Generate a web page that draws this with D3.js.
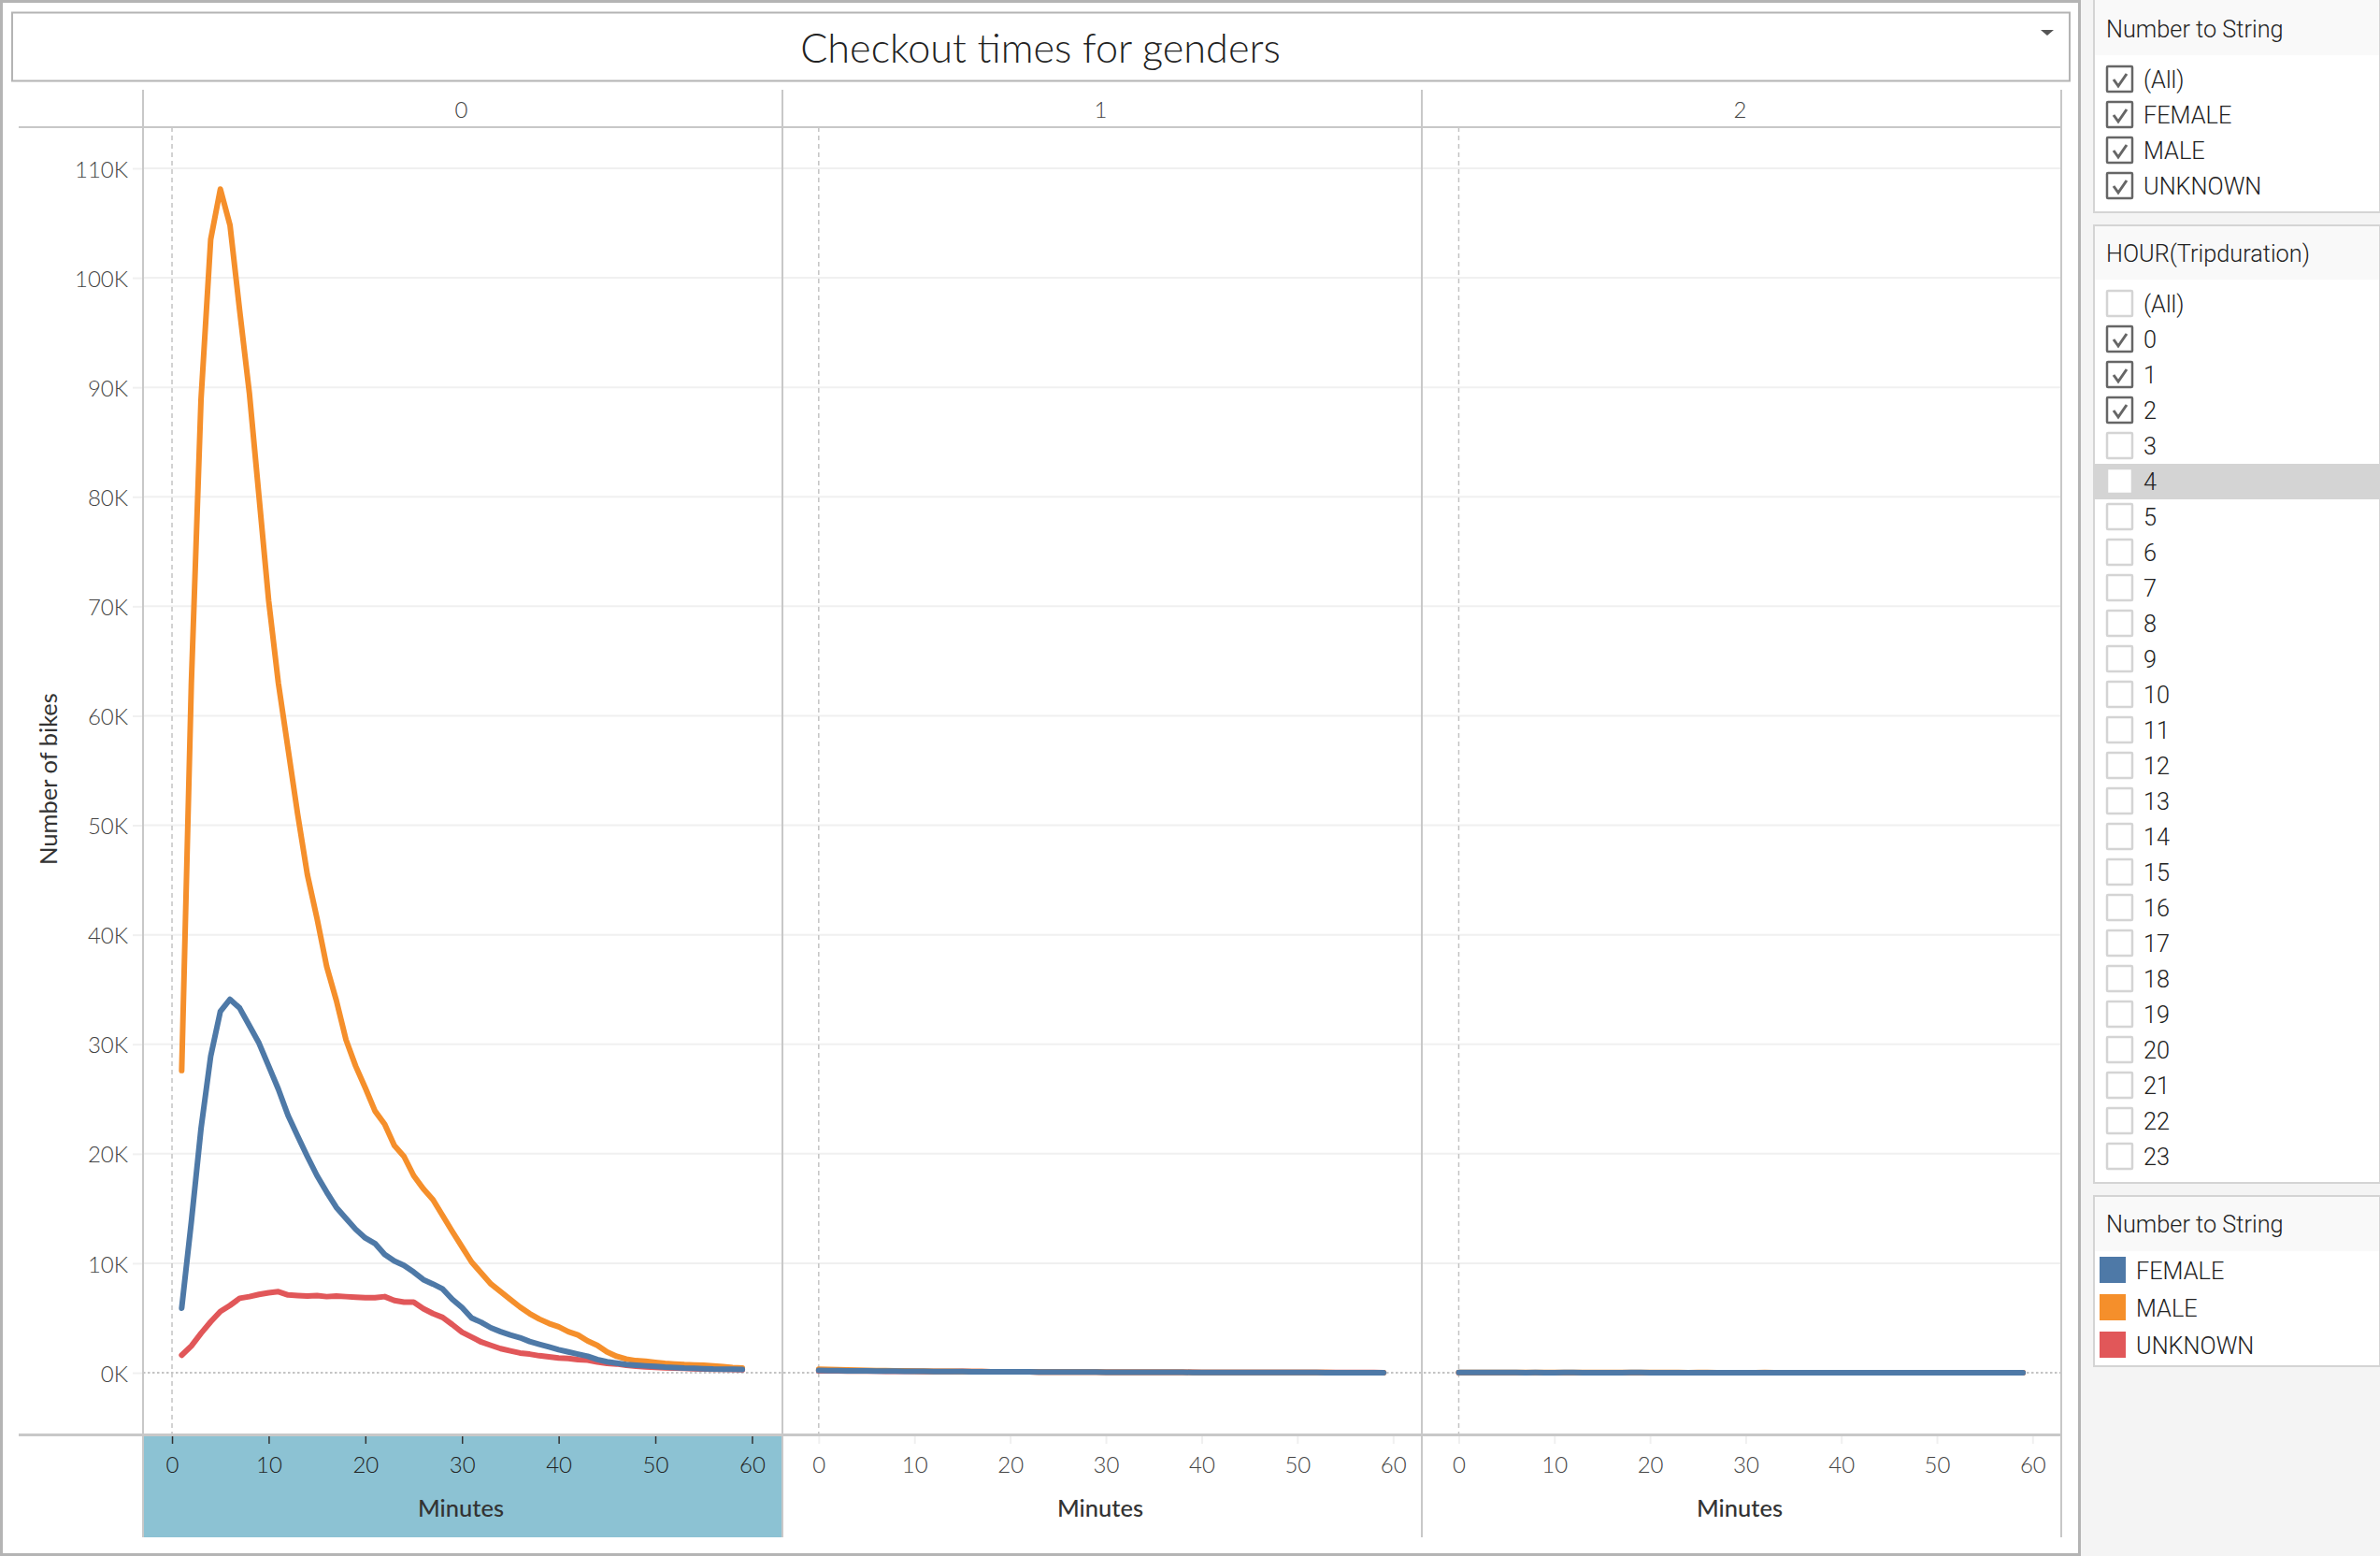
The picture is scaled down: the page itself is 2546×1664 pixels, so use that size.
<!DOCTYPE html>
<html>
<head>
<meta charset="utf-8">
<title>Checkout times for genders</title>
<script src="https://cdn.jsdelivr.net/npm/d3@7"></script>
<style>
  html, body { margin: 0; padding: 0; background: #f4f4f4; }
  svg { display: block; }
  text { font-family: Lato, "Open Sans", sans-serif; }
  .card text { font-family: Roboto, Lato, sans-serif; font-weight: 300; }
</style>
</head>
<body>
<svg id="viz"></svg>
<script>
// values, one list per gender and hour panel
var hours = ["0", "1", "2"];
var genders = ["FEMALE", "MALE", "UNKNOWN"];
var genderColors = ["#4e79a7", "#f58f2b", "#e15759"];
var yTicks = [0, 10000, 20000, 30000, 40000, 50000, 60000, 70000, 80000, 90000, 100000, 110000];
var xTicks = [0, 10, 20, 30, 40, 50, 60];

var minutesHour0 = [1,2,3,4,5,6,7,8,9,10,11,12,13,14,15,16,17,18,19,20,21,22,23,24,25,26,27,28,29,30,31,32,33,34,35,36,37,38,39,40,41,42,43,44,45,46,47,48,49,50,51,52,53,54,55,56,57,58,59];
var minutesRest = [0].concat(minutesHour0);

var femaleHour0 = [5900,13800,22300,28900,33000,34100,33300,31700,30100,28000,25900,23500,21600,19750,18000,16500,15100,14100,13100,12300,11800,10800,10200,9800,9200,8500,8100,7650,6700,5950,5000,4600,4100,3750,3450,3200,2850,2600,2350,2100,1900,1700,1500,1200,1000,880,740,680,630,570,510,480,430,400,370,340,330,310,300];
var maleHour0 = [27600,63000,88900,103500,108100,104800,97000,89500,80000,70500,63000,57000,51000,45500,41500,37100,34000,30400,28000,26000,23900,22700,20750,19750,18000,16800,15800,14350,12900,11500,10100,9100,8100,7400,6700,6000,5400,4900,4500,4200,3750,3450,2900,2500,1900,1500,1250,1100,1050,950,850,800,740,710,680,630,550,480,430];
var unknownHour0 = [1600,2450,3600,4650,5600,6150,6800,6950,7150,7300,7400,7100,7050,7000,7050,6950,7000,6950,6900,6850,6850,6950,6600,6450,6450,5850,5400,5050,4400,3700,3250,2800,2500,2200,2000,1800,1700,1550,1450,1350,1300,1200,1150,970,850,800,680,600,540,500,450,420,400,370,350,330,310,290,270];

var femaleHour1 = [210,200,190,180,170,165,155,150,140,135,130,125,115,110,105,100,95,95,90,85,80,80,75,70,70,65,60,60,55,55,50,50,45,45,40,40,40,35,35,30,30,30,25,25,25,20,20,20,20,15,15,15,15,10,10,10,10,10,10,5];
var maleHour1 = [310,290,270,250,230,215,200,190,175,165,150,145,135,125,120,110,105,100,95,90,85,80,75,70,70,65,60,60,55,55,50,50,45,45,40,40,40,35,35,30,30,30,30,25,25,25,20,20,20,15,15,15,15,15,10,10,10,10,10,10];
var unknownHour1 = [180,170,165,155,150,145,140,135,130,125,120,115,110,110,115,120,110,100,95,90,85,80,75,70,70,65,60,60,55,55,50,50,45,45,45,40,35,35,35,35,30,30,25,25,30,25,25,25,20,25,25,20,20,20,15,15,15,15,15,10];

var femaleHour2 = [15,15,15,15,15,15,15,10,15,10,10,15,15,10,10,10,10,10,15,15,10,10,10,10,5,10,10,10,10,10,5,10,5,5,10,5,5,10,5,5,5,10,5,5,5,5,5,10,5,5,5,5,5,5,5,5,5,5,5,5];
var maleHour2 = [25,25,25,20,20,25,20,20,20,20,20,20,15,15,15,15,20,15,15,15,15,15,15,15,10,15,15,10,10,10,10,10,15,10,10,10,10,10,10,10,10,10,10,10,5,10,10,5,5,5,10,5,5,5,5,5,5,5,5,5];
var unknownHour2 = [10,10,10,10,10,10,5,10,10,10,5,5,10,5,5,5,5,10,5,5,5,5,5,5,5,5,5,5,10,5,5,5,5,5,5,5,5,5,5,5,5,5,5,5,5,5,5,5,5,5,5,5,5,5,5,5,5,5,5,5];

var genderFilter = ["(All)", "FEMALE", "MALE", "UNKNOWN"];
var hourFilter = ["(All)", "0", "1", "2", "3", "4", "5", "6", "7", "8", "9", "10", "11", "12", "13", "14", "15", "16", "17", "18", "19", "20", "21", "22", "23"];
var hoursChecked = ["0", "1", "2"];
var hoverHour = "4";

// [minutes, FEMALE, MALE, UNKNOWN] for each panel, x scale left/right limits
var panelSeries = [
    { minutes: minutesHour0, values: [femaleHour0, maleHour0, unknownHour0], domain: [-3.0, 63.15] },
    { minutes: minutesRest, values: [femaleHour1, maleHour1, unknownHour1], domain: [-3.79, 63] },
    { minutes: minutesRest, values: [femaleHour2, maleHour2, unknownHour2], domain: [-3.86, 63] }
];

var W = 2546, H = 1664;
var svg = d3.select("#viz").attr("width", W).attr("height", H);

var panelEdges = [153, 837, 1521, 2205];
var plotTop = 136, plotBottom = 1535, axisBottom = 1644;
var lineColor = "#c8c8c8";

var y = d3.scaleLinear().domain([0, 110000]).range([1468, 180]);

// dashboard frame
svg.append("rect").attr("x", 0).attr("y", 0).attr("width", W).attr("height", H).attr("fill", "#f4f4f4");
svg.append("rect").attr("x", 1.5).attr("y", 1.5).attr("width", 2223).attr("height", 1661)
    .attr("fill", "#fff").attr("stroke", "#b4b4b4").attr("stroke-width", 3);

// title box
svg.append("rect").attr("x", 13).attr("y", 13.5).attr("width", 2201).attr("height", 73)
    .attr("fill", "#fff").attr("stroke", "#b4b4b4").attr("stroke-width", 2);
svg.append("text").attr("x", 1113).attr("y", 52)
    .attr("dy", "0.35em").attr("text-anchor", "middle")
    .attr("font-size", 43.2).attr("font-weight", 300).attr("fill", "#222")
    .text("Checkout times for genders");
svg.append("path").attr("d", "M2183 32h14l-7 6z").attr("fill", "#555");

// highlighted header of hour 0
svg.append("rect").attr("x", panelEdges[0]).attr("y", plotBottom)
    .attr("width", panelEdges[1] - panelEdges[0]).attr("height", axisBottom - plotBottom)
    .attr("fill", "#8cc2d3");

// horizontal gridlines + y axis
var yAxis = d3.axisLeft(y).tickValues(yTicks).tickSize(11).tickPadding(5)
    .tickFormat(function(d) { return d / 1000 + "K"; });
var gy = svg.append("g").attr("transform", "translate(" + panelEdges[0] + ",0)").call(yAxis);
gy.select(".domain").remove();
gy.selectAll("line").attr("stroke", "#f0f0f0").attr("stroke-width", 2);
gy.selectAll("text").attr("font-size", 24).attr("fill", "#444").attr("dy", "0.38em")
    .style("font-family", "Lato, sans-serif").attr("font-weight", 300);

svg.append("g").selectAll("line").data(yTicks.slice(1)).enter().append("line")
    .attr("x1", panelEdges[0]).attr("x2", panelEdges[3])
    .attr("y1", function(d) { return y(d); }).attr("y2", function(d) { return y(d); })
    .attr("stroke", "#f0f0f0").attr("stroke-width", 2);

svg.append("line").attr("x1", panelEdges[0]).attr("x2", panelEdges[3])
    .attr("y1", y(0)).attr("y2", y(0))
    .attr("stroke", "#c4c4c4").attr("stroke-width", 2).attr("stroke-dasharray", "2.5,2.5");

svg.append("text")
    .attr("transform", "translate(52,833) rotate(-90)")
    .attr("text-anchor", "middle").attr("dy", "0.35em")
    .attr("font-size", 25.5).attr("fill", "#333")
    .text("Number of bikes");

// panels
panelSeries.forEach(function(p, i) {
    var left = panelEdges[i], right = panelEdges[i + 1];
    var x = d3.scaleLinear().domain(p.domain).range([left, right]);

    // zero line of the minutes axis
    svg.append("line").attr("x1", x(0)).attr("x2", x(0))
        .attr("y1", plotTop).attr("y2", plotBottom)
        .attr("stroke", "#c4c4c4").attr("stroke-width", 1.5).attr("stroke-dasharray", "5,4");

    // panel header
    svg.append("text").attr("x", (left + right) / 2 - 1.5).attr("y", 118).attr("dy", "0.35em")
        .attr("text-anchor", "middle").attr("font-size", 24).attr("font-weight", 300).attr("fill", "#444")
        .text(hours[i]);

    // minutes axis
    var xAxis = d3.axisBottom(x).tickValues(xTicks).tickSize(9).tickPadding(14);
    var gx = svg.append("g").attr("transform", "translate(0," + plotBottom + ")").call(xAxis);
    gx.select(".domain").remove();
    gx.selectAll("line").attr("stroke", i === 0 ? "#333" : "#f0f0f0").attr("stroke-width", i === 0 ? 1.5 : 2);
    gx.selectAll("text").attr("font-size", 24).attr("font-weight", 300)
        .attr("fill", i === 0 ? "#222" : "#444")
        .style("font-family", "Lato, sans-serif");

    svg.append("text").attr("x", (left + right) / 2 - 2).attr("y", 1613).attr("dy", "0.35em")
        .attr("text-anchor", "middle").attr("font-size", 25.5).attr("font-weight", 500).attr("fill", "#333")
        .text("Minutes");

    // lines: blue is painted last
    var line = d3.line()
        .x(function(d) { return x(d[0]); })
        .y(function(d) { return y(d[1]); });

    [2, 1, 0].forEach(function(g) {
        var pts = p.minutes.map(function(m, k) { return [m, p.values[g][k]]; });
        svg.append("path").datum(pts)
            .attr("fill", "none")
            .attr("stroke", genderColors[g])
            .attr("stroke-width", 6)
            .attr("stroke-linejoin", "round")
            .attr("stroke-linecap", "round")
            .attr("d", line);
    });
});

// panel dividers and header rules
svg.append("g").selectAll("line").data(panelEdges).enter().append("line")
    .attr("x1", function(d) { return d; }).attr("x2", function(d) { return d; })
    .attr("y1", 96).attr("y2", axisBottom)
    .attr("stroke", lineColor).attr("stroke-width", 2);
svg.append("line").attr("x1", 20).attr("x2", panelEdges[3]).attr("y1", plotTop).attr("y2", plotTop)
    .attr("stroke", lineColor).attr("stroke-width", 2);
svg.append("line").attr("x1", 20).attr("x2", panelEdges[3]).attr("y1", plotBottom - 0.5).attr("y2", plotBottom - 0.5)
    .attr("stroke", lineColor).attr("stroke-width", 3);

// side cards
var side = svg.append("g").attr("class", "card");

function card(top, bottom, headerBottom, title, titleY) {
    side.append("rect").attr("x", 2240).attr("y", top).attr("width", 306).attr("height", bottom - top)
        .attr("fill", "#fff").attr("stroke", "#d4d4d4").attr("stroke-width", 2);
    side.append("rect").attr("x", 2241).attr("y", top + 1).attr("width", 304).attr("height", headerBottom - top - 1)
        .attr("fill", "#f9f9f9");
    side.append("text").attr("x", 2253).attr("y", titleY).attr("dy", "0.35em")
        .attr("font-size", 25.3).attr("fill", "#222").text(title);
}

function checklist(items, top, isChecked) {
    var g = side.append("g").selectAll("g").data(items).enter().append("g")
        .attr("transform", function(d, i) { return "translate(0," + (top + i * 38) + ")"; });
    g.filter(function(d) { return d === hoverHour && items === hourFilter; }).append("rect")
        .attr("x", 2241).attr("y", -19).attr("width", 304).attr("height", 38).attr("fill", "#d4d4d4");
    g.append("rect").attr("x", 2254).attr("y", -14).attr("width", 27).attr("height", 27).attr("rx", 1)
        .attr("fill", "#fff")
        .attr("stroke", function(d) { return isChecked(d) ? "#666" : "#d4d4d4"; })
        .attr("stroke-width", 2.5);
    g.filter(isChecked).append("path")
        .attr("d", "M2261 0l5 7l9 -13")
        .attr("fill", "none").attr("stroke", "#666").attr("stroke-width", 3);
    g.append("text").attr("x", 2293).attr("y", 0.5).attr("dy", "0.35em")
        .attr("font-size", 25.3).attr("fill", "#222").text(function(d) { return d; });
}

card(-2, 227, 59, "Number to String", 31);
checklist(genderFilter, 85, function() { return true; });

card(241, 1265, 299, "HOUR(Tripduration)", 271);
checklist(hourFilter, 325, function(d) { return hoursChecked.indexOf(d) >= 0; });

card(1279, 1461, 1338, "Number to String", 1309);
var legend = side.append("g").selectAll("g").data(genders).enter().append("g")
    .attr("transform", function(d, i) { return "translate(0," + (1358 + i * 40) + ")"; });
legend.append("rect").attr("x", 2246).attr("y", -14).attr("width", 28).attr("height", 28)
    .attr("fill", function(d, i) { return genderColors[i]; });
legend.append("text").attr("x", 2285).attr("y", 1.5).attr("dy", "0.35em")
    .attr("font-size", 25.3).attr("fill", "#222").text(function(d) { return d; });
</script>
</body>
</html>
